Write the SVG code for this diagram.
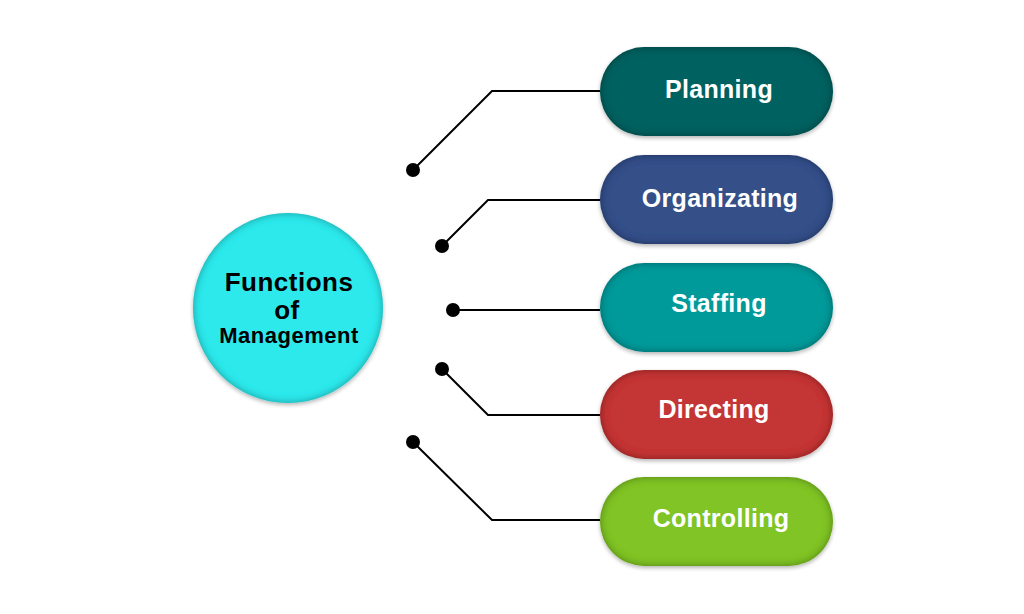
<svg xmlns="http://www.w3.org/2000/svg" width="1024" height="614" viewBox="0 0 1024 614">
<defs>
<style>
.pill-text{font-family:"Liberation Sans",Arial,sans-serif;font-weight:bold;font-size:25px;letter-spacing:0.3px;fill:#fff;text-anchor:middle}
.c-text{font-family:"Liberation Sans",Arial,sans-serif;font-weight:bold;fill:#000;text-anchor:middle}
.conn{fill:none;stroke:#000;stroke-width:2}
</style>
<filter id="inner" x="-10%" y="-10%" width="120%" height="130%">
<feFlood flood-color="#000" flood-opacity="0.7" result="f"/>
<feComposite in="f" in2="SourceAlpha" operator="out" result="inv"/>
<feGaussianBlur in="inv" stdDeviation="4" result="b"/>
<feComposite in="b" in2="SourceAlpha" operator="in" result="sh"/>
<feGaussianBlur in="SourceAlpha" stdDeviation="2" result="ob"/>
<feOffset in="ob" dx="0" dy="2" result="oo"/>
<feComponentTransfer in="oo" result="os"><feFuncA type="linear" slope="0.3"/></feComponentTransfer>
<feMerge><feMergeNode in="os"/><feMergeNode in="SourceGraphic"/><feMergeNode in="sh"/></feMerge>
</filter>
</defs>
<rect width="1024" height="614" fill="#fff"/>
<g id="connectors">
<polyline class="conn" points="413,170 492,91 600,91"/>
<polyline class="conn" points="442,246 488,200 600,200"/>
<polyline class="conn" points="453,310 600,310"/>
<polyline class="conn" points="442,369 488,415 600,415"/>
<polyline class="conn" points="413,442 492,520 600,520"/>
<circle cx="413" cy="170" r="7"/>
<circle cx="442" cy="246" r="7"/>
<circle cx="453" cy="310" r="7"/>
<circle cx="442" cy="369" r="7"/>
<circle cx="413" cy="442" r="7"/>
</g>
<g id="center">
<circle cx="288" cy="308" r="95" fill="#2ee9ec" filter="url(#inner)"/>
<text class="c-text" x="289" y="291" font-size="26" letter-spacing="0.5">Functions</text>
<text class="c-text" x="287" y="319" font-size="26" letter-spacing="0.5">of</text>
<text class="c-text" x="289" y="343" font-size="22" letter-spacing="0.5">Management</text>
</g>
<g id="planning">
<rect x="600" y="47" width="233" height="89" rx="44.5" fill="#006261" filter="url(#inner)"/>
<text class="pill-text" x="719" y="98">Planning</text>
</g>
<g id="organizating">
<rect x="600" y="155" width="233" height="89" rx="44.5" fill="#344f89" filter="url(#inner)"/>
<text class="pill-text" x="720" y="207">Organizating</text>
</g>
<g id="staffing">
<rect x="600" y="263" width="233" height="89" rx="44.5" fill="#019a9a" filter="url(#inner)"/>
<text class="pill-text" x="719" y="312">Staffing</text>
</g>
<g id="directing">
<rect x="600" y="370" width="233" height="89" rx="44.5" fill="#c43434" filter="url(#inner)"/>
<text class="pill-text" x="714" y="418">Directing</text>
</g>
<g id="controlling">
<rect x="600" y="477" width="233" height="89" rx="44.5" fill="#80c428" filter="url(#inner)"/>
<text class="pill-text" x="721" y="527">Controlling</text>
</g>
</svg>
